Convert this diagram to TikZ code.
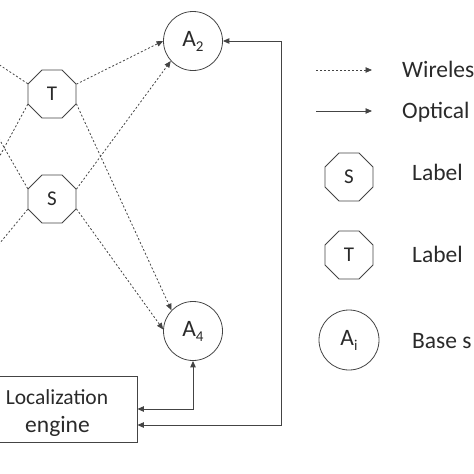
\documentclass[tikz,border=0pt]{standalone}
\usepackage{fontspec}
\setmainfont{Carlito}
\usetikzlibrary{arrows.meta,shapes.geometric}
\definecolor{lc}{HTML}{444444}
\definecolor{tc}{HTML}{2A2A2A}
\newcommand{\sub}[1]{\raisebox{-5pt}{\fontsize{15}{15}\selectfont #1}}
\tikzset{
  tip/.style={-{Triangle[length=6.5pt,width=5.5pt]}},
  wireless/.style={draw=lc,line width=0.8pt,dash pattern=on 2pt off 2pt},
  optical/.style={draw=lc,line width=0.9pt},
  basest/.style={circle,draw=lc,line width=0.8pt,minimum size=59pt,inner sep=0pt,text=tc,font=\fontsize{23.5}{23.5}\selectfont},
  tagnode/.style={regular polygon,regular polygon sides=8,draw=lc,line width=0.8pt,minimum size=52pt,inner sep=0pt,text=tc,font=\fontsize{21}{21}\selectfont},
  legtext/.style={anchor=base west,text=tc,font=\fontsize{23.5}{23.5}\selectfont,inner sep=0pt},
  enginebox/.style={rectangle,draw=lc,line width=0.8pt,minimum width=160pt,minimum height=66pt,inner sep=0pt},
  boxtext/.style={anchor=base,text=tc,inner sep=0pt}
}
\begin{document}
\begin{tikzpicture}[x=1pt,y=-1pt]
\useasboundingbox (0,0) rectangle (474,474);
\clip (0,0) rectangle (474,474);
% nodes
\node[basest] (A2) at (193,41) {A\sub{2}};
\node[basest] (A4) at (193,331) {A\sub{4}};
\node[tagnode] (T) at (52,94) {T};
\node[tagnode] (S) at (52,199) {S};
\node[enginebox] (L) at (57,409) {};
\node[boxtext,font=\fontsize{21.5}{21.5}\selectfont] (L1) at (57,404) {Localization};
\node[boxtext,font=\fontsize{23.5}{23.5}\selectfont] (L2) at (57.5,432) {engine};
% off-frame ends
\coordinate (c1) at (-10,58.6);
\coordinate (c2) at (-10,174);
\coordinate (c3) at (-10,123);
\coordinate (c4) at (-10,255);
% wireless links
\draw[wireless] (T.157.5) -- (c1);
\draw[wireless] (T.-157.5) -- (c2);
\draw[wireless] (S.157.5) -- (c3);
\draw[wireless] (S.-157.5) -- (c4);
\draw[wireless,tip] (T.22.5) -- (A2.180);
\draw[wireless,tip] (S.22.5) -- (A2.222);
\draw[wireless,tip] (T.-22.5) -- (A4.136);
\draw[wireless,tip] (S.-22.5) -- (A4.177);
% optical links
\coordinate (r) at (281,425);
\draw[optical,{Triangle[length=6.5pt,width=5.5pt]}-{Triangle[length=6.5pt,width=5.5pt]}] (A4.south) |- (L.east);
\draw[optical,{Triangle[length=6.5pt,width=5.5pt]}-{Triangle[length=6.5pt,width=5.5pt]}] (A2.east) -| (r) -- (L.east |- r);
% legend
\coordinate (w1) at (316,70); \coordinate (w2) at (372,70);
\coordinate (o1) at (316,111); \coordinate (o2) at (372,111);
\draw[wireless,tip] (w1) -- (w2);
\draw[optical,tip] (o1) -- (o2);
\node[legtext] (tw) at (402,77) {Wireles};
\node[legtext] (to) at (402,118) {Optical};
\node[tagnode] (lS) at (349,177) {S};
\node[tagnode] (lT) at (349,255) {T};
\node[basest,minimum size=60pt] (lA) at (349,340) {A\sub{i}};
\node[legtext] (tS) at (412,180) {Label};
\node[legtext] (tT) at (412,262) {Label};
\node[legtext] (tA) at (412,348) {Base s};
\end{tikzpicture}
\end{document}
